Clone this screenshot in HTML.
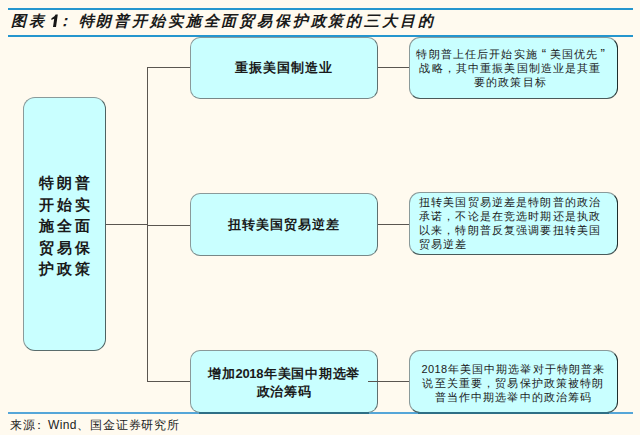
<!DOCTYPE html>
<html><head><meta charset="utf-8">
<style>
html,body{margin:0;padding:0;}
body{width:640px;height:435px;background:#FFFAEF;position:relative;overflow:hidden;font-family:"Liberation Serif",serif;color:#1a1a1a;}
.hl{position:absolute;left:8px;width:625px;height:2px;background:#2596CE;}
.ln{position:absolute;background:#5a5550;}
.box{position:absolute;background:#C9FFFF;border:1px solid #8a9a9a;border-right-color:#5e7070;border-bottom-color:#788888;border-radius:10px;box-sizing:border-box;}
.dbox{border-right-color:#1e2e2e;border-bottom-color:#4a5a5a;border-radius:11px}
.lbox{border-right-color:#4e6262;border-bottom-color:#5a6c6c}
.t{position:absolute;white-space:nowrap;}
.ql,.qr{display:inline-block;width:12px;letter-spacing:0;font-size:13px;line-height:10px}
.ql{text-align:center}
.qr{text-align:center;position:relative;left:-2px}
.l2{position:relative;left:-3px}
</style></head>
<body>
<div class="hl" style="top:8px"></div>
<div class="hl" style="top:35px"></div>
<div class="hl" style="top:412px;background:#55A6D8"></div>

<div class="t" style="left:11px;top:11px;font-family:'Liberation Sans',sans-serif;font-size:15px;font-weight:bold;font-style:italic;line-height:20px;letter-spacing:2.85px">图表<span style="display:inline-block;width:14px;letter-spacing:0"></span><span style="position:relative;left:-4px">：</span>特朗普开始实施全面贸易保护政策的三大目的</div>

<svg style="position:absolute;left:46px;top:13px" width="16" height="17" viewBox="0 0 16 17"><polygon points="7.0,13.9 10.0,13.9 11.8,1.6 9.6,1.6 8.4,3.2 5.5,5.2 5.3,6.9 8.2,5.8" fill="#151515"/></svg>
<!-- connectors -->
<div class="ln" style="left:147px;top:67px;width:1px;height:315px"></div>
<div class="ln" style="left:147px;top:67px;width:44px;height:1px"></div>
<div class="ln" style="left:104px;top:224px;width:44px;height:1px"></div>
<div class="ln" style="left:147px;top:225px;width:44px;height:1px"></div>
<div class="ln" style="left:147px;top:381px;width:44px;height:1px"></div>
<div class="ln" style="left:377px;top:67px;width:33px;height:1px"></div>
<div class="ln" style="left:377px;top:224px;width:33px;height:1px"></div>

<!-- left box -->
<div class="box lbox" style="left:23px;top:97px;width:83px;height:254px;border-radius:12px"></div>
<div class="t" style="left:39px;top:172px;font-family:'Liberation Sans',sans-serif;font-size:15px;font-weight:bold;line-height:21.5px;letter-spacing:3px;white-space:normal;width:70px">特朗普<br>开始实<br>施全面<br>贸易保<br>护政策</div>

<!-- middle boxes -->
<div class="box" style="left:190px;top:37px;width:188px;height:62px"></div>
<div class="t" style="left:190px;width:188px;top:59px;text-align:center;font-family:'Liberation Sans',sans-serif;font-size:13px;font-weight:bold;letter-spacing:1px;line-height:17px">重振美国制造业</div>

<div class="box" style="left:190px;top:193px;width:188px;height:63px"></div>
<div class="t" style="left:190px;width:188px;top:216px;text-align:center;font-family:'Liberation Sans',sans-serif;font-size:13px;font-weight:bold;letter-spacing:1px;line-height:17px">扭转美国贸易逆差</div>

<div class="box" style="left:190px;top:350px;width:188px;height:63px"></div>
<div class="ln" style="left:368px;top:381px;width:42px;height:1px"></div>
<div class="t" style="left:190px;width:188px;top:365px;text-align:center;font-family:'Liberation Sans',sans-serif;font-size:13px;font-weight:bold;letter-spacing:0.7px;line-height:18px">增加<span style="letter-spacing:-0.3px;margin-right:0.8px">2018</span>年美国中期选举<br>政治筹码</div>

<!-- description boxes -->
<div class="box dbox" style="left:409px;top:37px;width:209px;height:62px"></div>
<div class="t" style="left:409px;width:209px;top:47px;text-align:center;font-family:'Liberation Sans',sans-serif;font-size:11px;letter-spacing:1.15px;line-height:14px">特朗普上任后开始实施<span class="ql">“</span>美国优先<span class="qr">”</span><br><span class="l2">战略，其中重振美国制造业是其重</span><br><span class="l2">要的政策目标</span></div>

<div class="box dbox" style="left:409px;top:192px;width:209px;height:63px"></div>
<div class="t" style="left:419px;top:195px;text-align:left;font-family:'Liberation Sans',sans-serif;font-size:11px;letter-spacing:1.15px;line-height:14px">扭转美国贸易逆差是特朗普的政治<br>承诺，不论是在竞选时期还是执政<br>以来，特朗普反复强调要扭转美国<br>贸易逆差</div>

<div class="box dbox" style="left:409px;top:350px;width:209px;height:63px"></div>
<div class="t" style="left:409px;width:209px;top:362px;text-align:center;font-family:'Liberation Sans',sans-serif;font-size:11px;letter-spacing:1.15px;line-height:14px"><span style="letter-spacing:0.4px">2018</span>年美国中期选举对于特朗普来<br>说至关重要，贸易保护政策被特朗<br>普当作中期选举中的政治筹码</div>

<div class="hl" style="top:412px;left:199px;width:170px;background:#2F6F86"></div>
<div class="hl" style="top:412px;left:418px;width:191px;background:#2F6F86"></div>
<div class="t" style="left:10px;top:417.5px;font-family:'Liberation Sans',sans-serif;font-size:12px;line-height:14px;color:#222;letter-spacing:0.85px">来源<span style="position:relative;left:-3px">：</span><span style="font-size:12px;letter-spacing:0.3px;position:relative;left:-0.5px">Wind</span>、国金证券研究所</div>
</body></html>
